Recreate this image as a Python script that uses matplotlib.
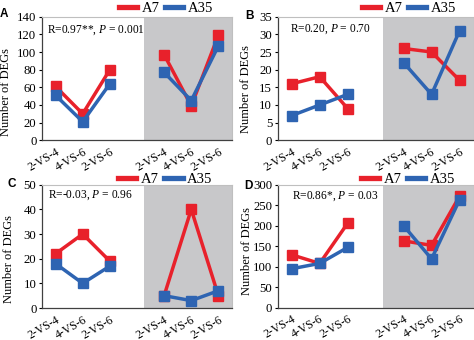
import numpy as np
import matplotlib
matplotlib.use('Agg')
import matplotlib.pyplot as plt
from matplotlib.lines import Line2D

plt.rcParams['font.family'] = 'Liberation Serif'
plt.rcParams['mathtext.fontset'] = 'custom'
plt.rcParams['mathtext.it'] = 'Liberation Serif:italic'
plt.rcParams['mathtext.rm'] = 'Liberation Serif'

# categorie (due gruppi da tre confronti)
categorie = ['2-VS-4', '4-VS-6', '2-VS-6', '2-VS-4', '4-VS-6', '2-VS-6']

a7_A = [61, 30, 80, 97, 39, 119]
a35_A = [51, 21, 64, 77, 45, 107]
a7_B = [16, 18, 9, 26, 25, 17]
a35_B = [7, 10, 13, 22, 13, 31]
a7_C = [22, 30, 19, 5, 40, 5]
a35_C = [18, 10, 17, 5, 3, 7]
a7_D = [129, 108, 206, 163, 152, 272]
a35_D = [95, 108, 147, 200, 119, 263]

testi = ['R=0.97**, $\\it{P}$ = 0.001', 'R=0.20, $\\it{P}$ = 0.70',
         'R=-0.03, $\\it{P}$ = 0.96', 'R=0.86*, $\\it{P}$ = 0.03']
lettere = ['A', 'B', 'C', 'D']
ylims = [(140, 20), (35, 5), (50, 10), (300, 50)]

rosso = '#e8212b'
blu = '#2e64b2'
grigio = '#c8c8ca'

fig = plt.figure(figsize=(4.74, 3.4), dpi=100)

# posizioni degli assi [left, bottom, width, height]
pos = [[0.0886, 0.5874, 0.4008, 0.3635],
       [0.5859, 0.5874, 0.4131, 0.3635],
       [0.0886, 0.0941, 0.4008, 0.3626],
       [0.5859, 0.0950, 0.4131, 0.3618]]
testo_xy = [(0.026, 0.892), (0.063, 0.90), (0.032, 0.917), (0.073, 0.908)]
legenda_xy = [(0.405, 1.07), (0.43, 1.07), (0.40, 1.045), (0.425, 1.04)]
ylabel_xy = [(-0.159, 0.387), (-0.131, 0.415), (-0.142, 0.40), (-0.128, 0.46)]
lettera_xy = [(0, 14), (245, 16), (7, 184), (244, 186)]

dati = [(a7_A, a35_A), (a7_B, a35_B), (a7_C, a35_C), (a7_D, a35_D)]
x = np.array([0, 1, 2, 4, 5, 6])

maniglie = [Line2D([], [], color=rosso, lw=3.8), Line2D([], [], color=blu, lw=3.8)]

for k in range(4):
    ax = fig.add_axes(pos[k])
    a7, a35 = dati[k]
    ax.axvspan(3.25, 6.5, color=grigio, lw=0, zorder=0)
    ax.plot(x[:3], a7[:3], color=rosso, lw=2.5, marker='s', ms=6.5, zorder=3)
    ax.plot(x[3:], a7[3:], color=rosso, lw=2.5, marker='s', ms=6.5, zorder=3)
    ax.plot(x[:3], a35[:3], color=blu, lw=2.5, marker='s', ms=6.5, zorder=4)
    ax.plot(x[3:], a35[3:], color=blu, lw=2.5, marker='s', ms=6.5, zorder=4)

    ymax, passo = ylims[k]
    ax.set_ylim(0, ymax)
    ax.set_yticks(np.arange(0, ymax + 1, passo))
    ax.set_xlim(-0.5, 6.5)
    ax.set_xticks(x)
    ax.set_xticklabels(categorie, rotation=30, ha='right', rotation_mode='anchor', fontsize=8.5)
    ax.tick_params(axis='x', length=0, pad=4)
    ax.tick_params(axis='y', length=2.5, width=0.8, labelsize=9.2, pad=1.5, direction='out')
    ax.set_ylabel('Number of DEGs', fontsize=9)
    ax.yaxis.set_label_coords(*ylabel_xy[k])

    for s in ['top', 'right']:
        ax.spines[s].set_color('#bfbfbf')
        ax.spines[s].set_linewidth(0.8)
    for s in ['left', 'bottom']:
        ax.spines[s].set_color('#404040')
        ax.spines[s].set_linewidth(0.9)

    ax.text(testo_xy[k][0], testo_xy[k][1], testi[k], transform=ax.transAxes, fontsize=8.3,
            va='center', ha='left', zorder=5)

    ax.legend(maniglie, ['A7', 'A35'], loc='center left', bbox_to_anchor=legenda_xy[k],
              ncol=2, frameon=False, fontsize=10.5, handlelength=1.25, handletextpad=0.3,
              columnspacing=0.4, borderpad=0, borderaxespad=0)

    fig.text(lettera_xy[k][0] / 474, 1 - lettera_xy[k][1] / 340, lettere[k],
             fontsize=8.5, fontweight='bold', family='Liberation Sans', va='center', ha='left')

fig.savefig('out.png', dpi=100)
